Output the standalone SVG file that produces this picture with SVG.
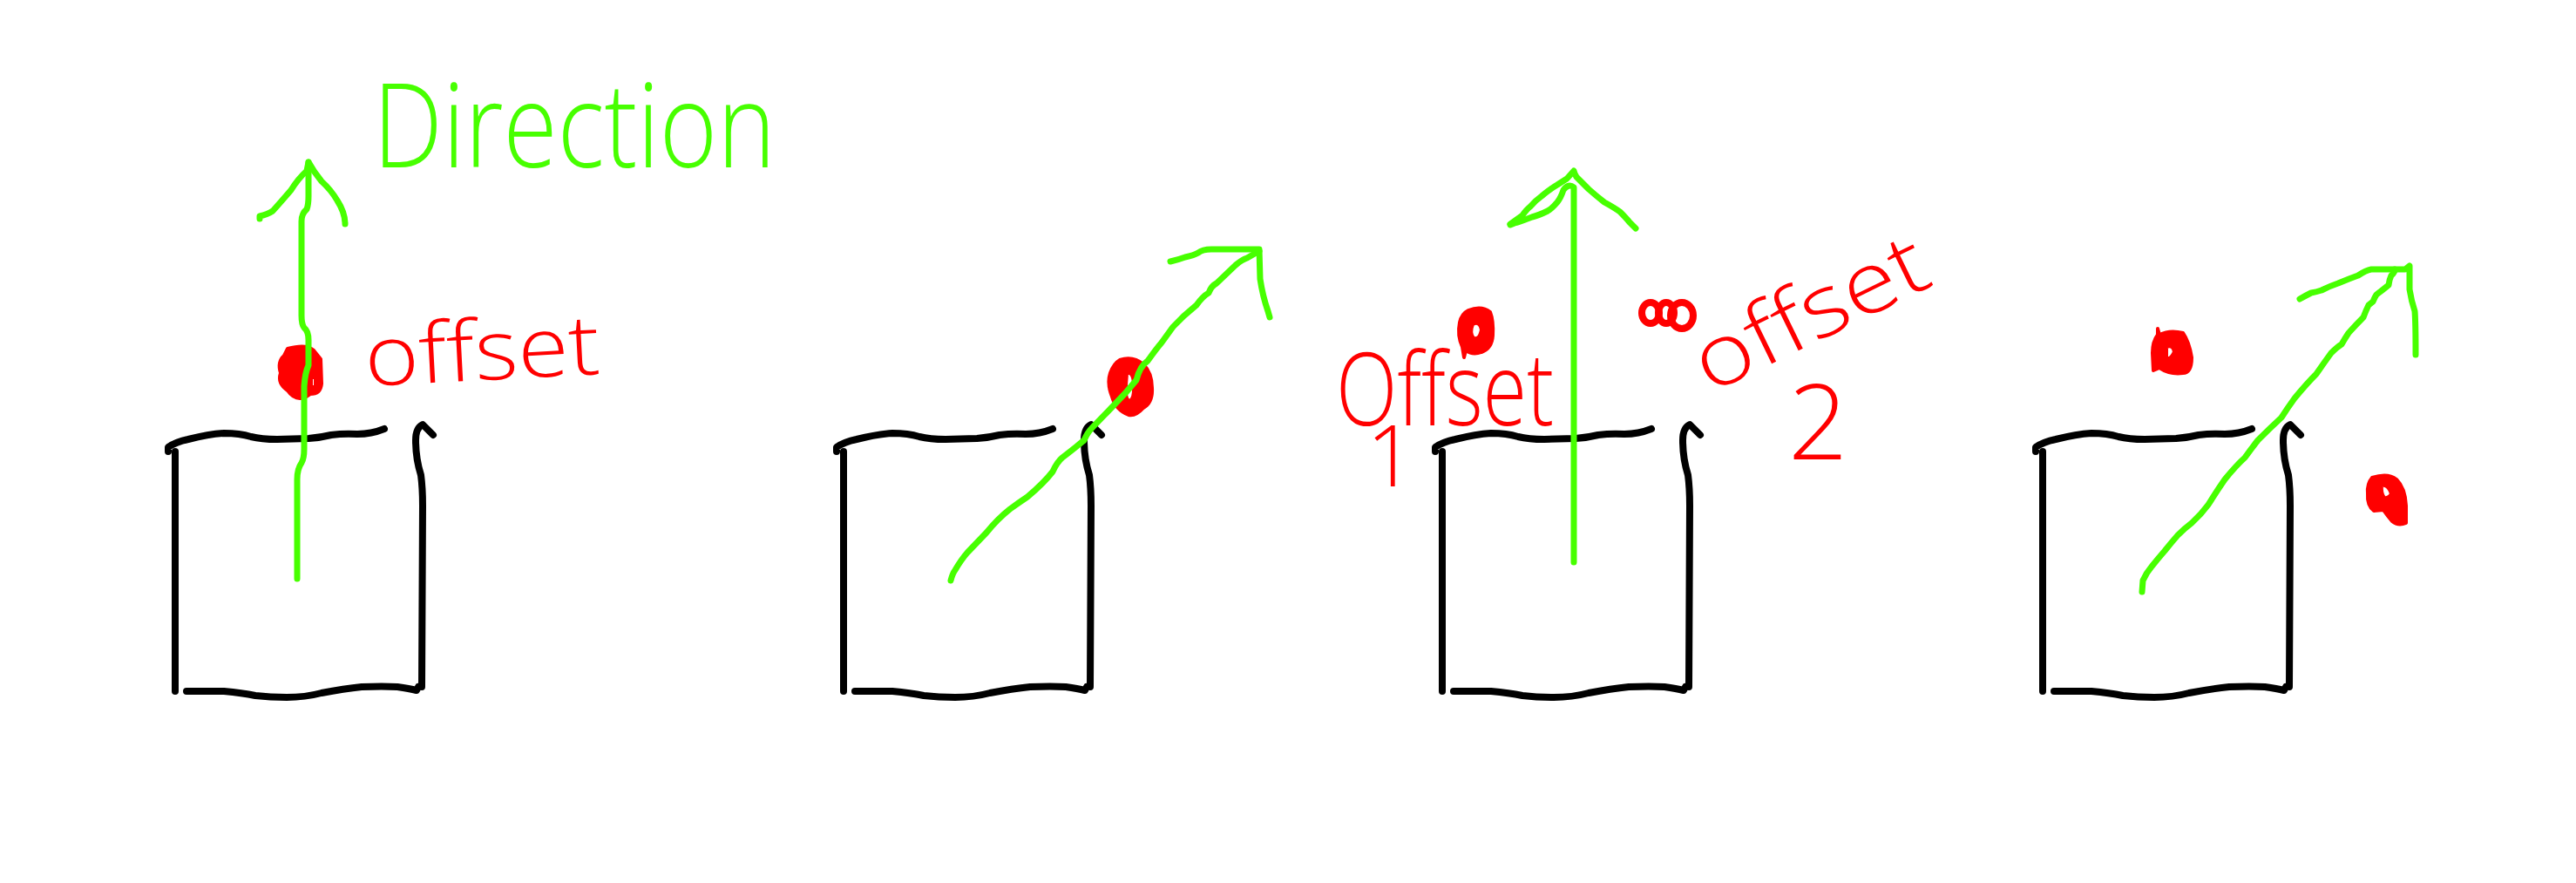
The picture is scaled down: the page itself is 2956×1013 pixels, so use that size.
<svg xmlns="http://www.w3.org/2000/svg" xmlns:xlink="http://www.w3.org/1999/xlink" width="2956" height="1013" viewBox="0 0 2956 1013">
<style>
.box{fill:none;stroke:#000;stroke-width:8;stroke-linecap:round;stroke-linejoin:round}
.arr{fill:none;stroke:#47ff00;stroke-width:7;stroke-linecap:round;stroke-linejoin:round}
.dot{fill:#ff0000;stroke:#ff0000;stroke-width:4;stroke-linejoin:round;fill-rule:evenodd}
.ring{fill:none;stroke:#ff0000;stroke-width:8}
.red{fill:#ff0000;font-family:"Open Sans","Liberation Sans",sans-serif;font-weight:300}
.green{fill:#47ff00;font-family:"Open Sans","Liberation Sans",sans-serif;font-weight:300}
</style>
<defs>
<g id="boxShape" class="box">
<path d="M193,518 L193,513 Q202,507 216,504 Q240,498 257,497 Q275,497 288,501 Q300,504 318,504 L354,503 Q368,502 380,499 Q395,497 410,498 Q426,498 441,492"/>
<path d="M201,518 L201,793"/>
<path d="M497,499 L485,487 Q477,491 477,505 Q477,526 483,545 Q485,560 485,580 L484,788"/>
<path d="M214,793 L257,793 Q278,795 293,798 Q310,800 329,800 Q350,800 369,795 Q395,790 415,788 Q440,787 456,788 Q470,790 478,792 L480,788"/>
</g>
</defs>
<rect width="2956" height="1013" fill="#fff"/>

<g id="panel1">
<g id="box1"><use xlink:href="#boxShape"/></g>
<g id="dot1"><path class="dot" d="M330,400 Q352,394 360,402 L368,412 L369,440 Q368,452 356,452 L350,456 Q338,460 330,448 Q318,440 322,428 Q318,415 326,408 Z M357,433 L362,433 L362,444 L357,444 Z"/></g>
<g id="label-offset"><text class="red" x="420" y="443" font-size="96" textLength="270" lengthAdjust="spacingAndGlyphs" transform="rotate(-3 420 443)">offset</text></g>
<g id="label-direction"><text class="green" x="428" y="192" font-size="134" textLength="462" lengthAdjust="spacingAndGlyphs">Direction</text></g>
</g>

<g id="panel2">
<g id="box2"><use xlink:href="#boxShape" transform="translate(767 0)"/></g>
<g id="dot2"><path class="dot" d="M1285,413 Q1300,408 1312,418 Q1322,428 1322,445 Q1323,462 1312,468 Q1303,478 1295,476 Q1280,470 1276,455 Q1270,440 1274,428 Q1278,417 1285,413 Z M1293,428 Q1300,426 1301,440 Q1302,458 1296,460 Q1291,458 1292,442 Z"/></g>
</g>

<g id="panel3">
<g id="box3"><use xlink:href="#boxShape" transform="translate(1454 0)"/></g>
<g id="dot3a"><path class="dot" d="M1685,356 Q1700,350 1710,358 Q1714,368 1713,385 Q1712,400 1700,404 Q1690,408 1682,402 L1680,410 L1678,398 Q1672,385 1675,370 Q1677,360 1685,356 Z M1690,372 Q1698,368 1700,378 Q1698,390 1691,388 Q1686,382 1690,372 Z"/></g>
<g id="dot3b"><ellipse class="ring" cx="1894" cy="359" rx="10" ry="12"/><ellipse class="ring" cx="1912" cy="359" rx="9" ry="12"/><ellipse class="ring" cx="1930" cy="362" rx="13" ry="15"/></g>
<g id="label-offset1"><text class="red" font-size="116"><tspan x="1533" y="488" textLength="250" lengthAdjust="spacingAndGlyphs">Offset</tspan><tspan x="1568" y="558" font-size="98">1</tspan></text></g>
<g id="label-offset2"><text class="red" x="1962" y="452" font-size="98" textLength="288" lengthAdjust="spacingAndGlyphs" transform="rotate(-26 1962 452)">offset</text><text class="red" x="2052" y="527" font-size="120">2</text></g>
</g>

<g id="panel4">
<g id="box4"><use xlink:href="#boxShape" transform="translate(2143 0)"/></g>
<g id="dot4a"><path class="dot" d="M2476,377 L2478,384 Q2490,378 2505,382 Q2512,392 2515,410 Q2515,428 2505,428 Q2490,430 2478,422 L2471,425 L2470,405 Q2470,392 2476,384 Z M2486,398 Q2494,395 2495,404 Q2490,414 2486,410 Z"/></g>
<g id="dot4b"><path class="dot" d="M2722,548 Q2740,542 2750,550 Q2760,560 2761,580 L2761,600 Q2752,604 2745,598 Q2740,592 2735,585 L2724,586 Q2716,580 2717,566 Q2716,555 2722,548 Z M2733,557 Q2740,555 2744,566 Q2742,572 2736,571 Q2732,566 2733,557 Z"/></g>
</g>

<g id="connectors">
<path class="arr" d="M341,664 L341,550 Q341,538 346,531 Q349,526 349,515 L349,443 Q350,428 354,419 L354,390 Q354,380 349,376 Q346,372 346,362 L346,254 Q346,245 352,240 Q354,235 354,225 L354,186"/>
<path class="arr" d="M298,251 L298,248 Q307,246 313,242 Q322,232 334,218 Q342,205 352,196 L354,186 Q360,197 369,208 Q380,218 387,230 Q396,244 396,257"/>
<path class="arr" d="M1091,666 Q1093,658 1096,654 Q1103,642 1110,634 L1132,611 Q1145,595 1159,584 Q1170,576 1179,570 Q1198,554 1208,541 Q1213,530 1219,525 Q1236,512 1244,505 Q1248,496 1253,491 L1279,464 Q1293,450 1304,436 Q1308,420 1317,414 Q1327,400 1333,393 L1346,375 Q1358,362 1373,350 Q1380,340 1387,336 Q1390,328 1396,325 L1418,304 Q1425,298 1431,296 L1445,288"/>
<path class="arr" d="M1343,300 Q1352,298 1360,295 Q1370,293 1375,290 Q1380,286 1390,286 L1445,286 L1446,320 Q1449,340 1455,357 L1457,364"/>
<path class="arr" d="M1806,645 L1806,215 Q1800,210 1794,218 Q1791,227 1787,232 Q1780,240 1776,242 Q1766,247 1758,249 Q1745,254 1738,256 L1733,258"/>
<path class="arr" d="M1733,257 Q1740,252 1747,247 Q1752,240 1756,237 Q1762,230 1769,225 Q1780,216 1787,212 L1798,205 L1806,196 Q1807,200 1809,203 Q1816,210 1823,217 Q1832,225 1841,232 Q1852,238 1859,243 Q1866,250 1870,255 L1877,262"/>
<path class="arr" d="M2458,679 L2459,666 Q2463,657 2469,650 Q2477,640 2484,632 Q2492,622 2499,614 Q2507,606 2515,600 Q2526,590 2534,579 Q2544,563 2553,550 Q2566,534 2576,525 Q2584,514 2591,505 Q2605,491 2618,479 Q2625,468 2633,457 Q2647,440 2658,429 Q2667,416 2675,405 Q2682,398 2687,395 Q2691,388 2695,382 Q2704,372 2712,364 Q2715,356 2718,350 L2723,346 Q2725,341 2727,338 Q2735,332 2741,327 Q2742,320 2744,316 Q2748,313 2748,309"/>
<path class="arr" d="M2639,343 Q2646,339 2652,336 Q2658,335 2664,333 Q2674,328 2683,325 Q2695,320 2706,316 Q2715,310 2721,309 L2760,309 L2765,305 L2765,332 Q2767,345 2771,357 Q2772,370 2772,407"/>
</g>
</svg>
